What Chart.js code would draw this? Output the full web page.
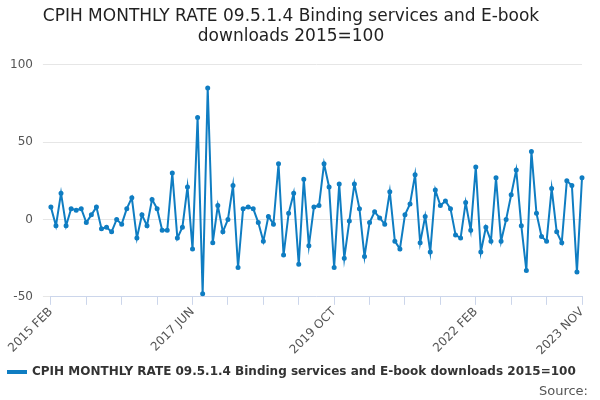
<!DOCTYPE html>
<html><head><meta charset="utf-8">
<script src="https://cdn.jsdelivr.net/npm/chart.js@4/dist/chart.umd.min.js"></script>
<style>body{margin:0}#w{width:600px;height:400px;position:relative}</style>
</head><body><div id="w"><canvas id="c"></canvas>
<div style="position:absolute;right:12px;bottom:2px;font:13px 'DejaVu Sans';color:#555">Source:</div></div>
<script>
const seriesName = 'CPIH MONTHLY RATE 09.5.1.4 Binding services and E-book downloads 2015=100';
const values = [8,-4,17,-4,7,6,7,-2,3,8,-6,-5,-8,0,-3,7,14,-12,3,-4,13,7,-7,-7,30,-12,-5,21,-19,66,-48,85,-15,9,-8,0,22,-31,7,8,7,-2,-14,2,-3,36,-23,4,17,-29,26,-17,8,9,36,21,-31,23,-25,-1,23,7,-24,-2,5,1,-3,18,-14,-19,3,10,29,-15,2,-21,19,9,12,7,-10,-12,11,-7,34,-21,-5,-14,27,-14,0,16,32,-4,-33,44,4,-11,-14,20,-8,-15,25,22,-34,27];
const months = ['JAN','FEB','MAR','APR','MAY','JUN','JUL','AUG','SEP','OCT','NOV','DEC'];
const labels = values.map((v,i)=>{const m=i+1;return (2015+Math.floor(m/12))+' '+months[m%12];});
const yTicks = [-50,0,50,100];
const N = labels.length;
new Chart(document.getElementById('c'),{type:'line',
data:{labels,datasets:[{label:seriesName,data:values,borderColor:'#0f7dc2',backgroundColor:'#0f7dc2',borderWidth:2,pointRadius:1.5,tension:0}]},
options:{responsive:true,maintainAspectRatio:false,animation:false,
layout:{padding:{left:0,right:18,bottom:12}},
plugins:{title:{display:true,text:['CPIH MONTHLY RATE 09.5.1.4 Binding services and E-book','downloads 2015=100'],font:{family:'DejaVu Sans',size:17,weight:'normal'},color:'#222',padding:{top:6,bottom:18}},
legend:{position:'bottom',align:'start',labels:{boxWidth:18,boxHeight:2,padding:8,font:{family:'DejaVu Sans',size:12,weight:'bold'},color:'#333'}}},
scales:{x:{grid:{drawOnChartArea:false,color:c=>c.index%7===0?'#ccd6eb':'transparent',tickLength:8},border:{color:'#ccd6eb'},
ticks:{autoSkip:false,maxRotation:45,minRotation:45,padding:0,font:{family:'DejaVu Sans',size:12},color:'#555',
callback:(v,i)=>(i%28===0||i===N-1)?labels[i]:''}},
y:{min:-50,max:100,afterBuildTicks:a=>{a.ticks=yTicks.map(v=>({value:v}))},grid:{color:'#e6e6e6'},border:{display:false},
ticks:{font:{family:'DejaVu Sans',size:12},color:'#555',padding:10}}}}});
</script></body></html>
